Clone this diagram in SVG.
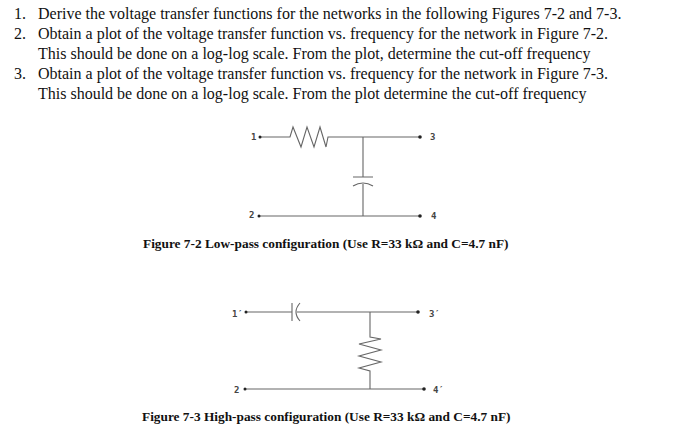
<svg xmlns="http://www.w3.org/2000/svg" width="679" height="432" viewBox="0 0 679 432">
<style>
.t{font-family:"Liberation Serif","Times New Roman",serif;font-size:16px;fill:#111}
.c{font-family:"Liberation Serif","Times New Roman",serif;font-size:13.33px;font-weight:bold;fill:#111}
.l{font-family:"DejaVu Sans Mono","Liberation Mono",monospace;font-size:9px;font-weight:bold;fill:#444}
.w{fill:none;stroke:#666;stroke-width:1.1}
.d{fill:#222}
</style>
<rect width="679" height="432" fill="#fff"/>
<g id="instructions">
<text class="t" x="14" y="19">1.</text><text class="t" x="38" y="19">Derive the voltage transfer functions for the networks in the following Figures 7-2 and 7-3.</text>
<text class="t" x="14" y="39">2.</text><text class="t" x="38" y="39">Obtain a plot of the voltage transfer function vs. frequency for the network in Figure 7-2.</text>
<text class="t" x="38" y="59">This should be done on a log-log scale. From the plot, determine the cut-off frequency</text>
<text class="t" x="14" y="79">3.</text><text class="t" x="38" y="79">Obtain a plot of the voltage transfer function vs. frequency for the network in Figure 7-3.</text>
<text class="t" x="38" y="99">This should be done on a log-log scale. From the plot determine the cut-off frequency</text>
</g>
<g id="connectors">
<path class="w" d="M260 137H290L293 127L301 147L307 127L314 147L320 127L326 147L328 137H420M363 137V177M363 184V216M259 216H420"/>
<path class="w" d="M353 177H373M353 186Q363 180 373 186"/>
<path class="w" d="M246 312H292M292 303V321M300 303Q292 312 300 321M297 312H418M370 312V337L381 339L359 344L381 350L359 356L381 362L359 368L370 371V389M245 389H424"/>
</g>
<g id="fig-7-2">
<text class="l" x="251" y="140">1</text><circle class="d" cx="260" cy="137" r="1.5"/>
<text class="l" x="430" y="140">3</text><circle class="d" cx="420" cy="137" r="1.8"/>
<text class="l" x="249" y="218">2</text><circle class="d" cx="259" cy="216" r="1.5"/>
<text class="l" x="431" y="219">4</text><circle class="d" cx="420" cy="216" r="1.8"/>
<text class="c" x="143" y="247.5">Figure 7-2 Low-pass configuration (Use R=33 kΩ and C=4.7 nF)</text>
</g>
<g id="fig-7-3">
<text class="l" x="232" y="317">1′</text><circle class="d" cx="246" cy="312" r="1.5"/>
<text class="l" x="429" y="317">3′</text><circle class="d" cx="418" cy="312" r="1.8"/>
<text class="l" x="234" y="393">2</text><circle class="d" cx="245" cy="389" r="1.5"/>
<text class="l" x="433" y="393">4′</text><circle class="d" cx="424" cy="389" r="1.8"/>
<text class="c" x="142" y="420.5">Figure 7-3 High-pass configuration (Use R=33 kΩ and C=4.7 nF)</text>
</g>
</svg>
